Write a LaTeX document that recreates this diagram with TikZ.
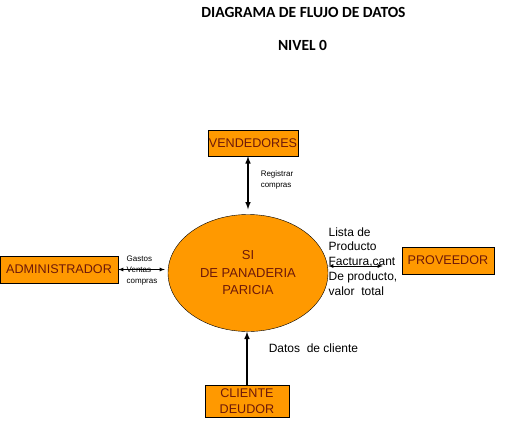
\documentclass[tikz,border=0pt]{standalone}
\usepackage{fontspec}
\setmainfont{Liberation Sans}
\newfontfamily\titlefont{Carlito}
\usetikzlibrary{positioning,arrows,shapes.geometric}
\definecolor{naranja}{RGB}{255,153,0}
\definecolor{granate}{RGB}{110,25,10}
\begin{document}
\begin{tikzpicture}
		\tikzset{ent/.style={draw,fill=naranja,text=granate,inner sep=0pt,font=\fontsize{12.6}{14}\selectfont},flujo/.style={>=latex,line width=1.5pt},etq/.style={font=\fontsize{8}{11}\selectfont,align=left,inner sep=0pt},tit/.style={font=\titlefont\bfseries\fontsize{15.5}{18}\selectfont}}
		\useasboundingbox (-248pt,-159pt) rectangle (260pt,273pt);
		\node[ent,ellipse,minimum width=160pt,minimum height=117pt,align=center,font=\fontsize{13}{17.5}\selectfont] (si) {SI\\DE PANADERIA\\PARICIA};
		\node[ent,minimum width=90pt,minimum height=26pt] (v) [above of=si,xshift=5pt,yshift=101.5pt] {VENDEDORES};
		\node[ent,minimum width=118pt,minimum height=27pt] (adm) [left of=si,xshift=-160.5pt,yshift=3.5pt] {ADMINISTRADOR};
		\node[ent,minimum width=92pt,minimum height=27pt] (prov) [right of=si,xshift=171.5pt,yshift=12.5pt] {PROVEEDOR};
		\node[ent,minimum width=84pt,minimum height=32pt,align=center,font=\fontsize{12.6}{16}\selectfont] (cli) [below of=si,xshift=-1pt,yshift=-99.5pt] {CLIENTE\\DEUDOR};
		\node[tit] (titulo) [above of=si,xshift=55.5pt,yshift=232.5pt] {DIAGRAMA DE FLUJO DE DATOS};
		\node[tit] (niv) [below of=titulo,xshift=-1pt,yshift=-4.5pt] {NIVEL 0};
		\coordinate (pe) at ([yshift=-5.5pt]prov.west);

		\draw[<->,flujo] (v.south -| si.north) -- (si.north) [shorten >=5pt] node[etq,pos=0.4,right=12pt] {Registrar\\compras};
		\draw[<->,flujo,line width=.8pt] (adm.east) -- (si.west |- adm.east) [shorten >=3pt] node[etq,midway,anchor=center,xshift=-1pt,yshift=-1pt] {Gastos\\Ventas\\compras};
		\draw[<->,flujo,line width=.8pt] (pe -| si.east) -- (pe) [shorten >=19pt] node[pos=0,anchor=west,align=left,inner sep=0pt,yshift=4.5pt,font=\fontsize{12}{14.8}\selectfont] {Lista de\\Producto\\Factura,cant\\De producto,\\valor~~total};
		\draw[->,flujo] (cli.north) -- (cli.north |- si.south) node[pos=0.68,right=21pt,font=\fontsize{12}{14}\selectfont,inner sep=0pt] {Datos~~de cliente};
\end{tikzpicture}
\end{document}
